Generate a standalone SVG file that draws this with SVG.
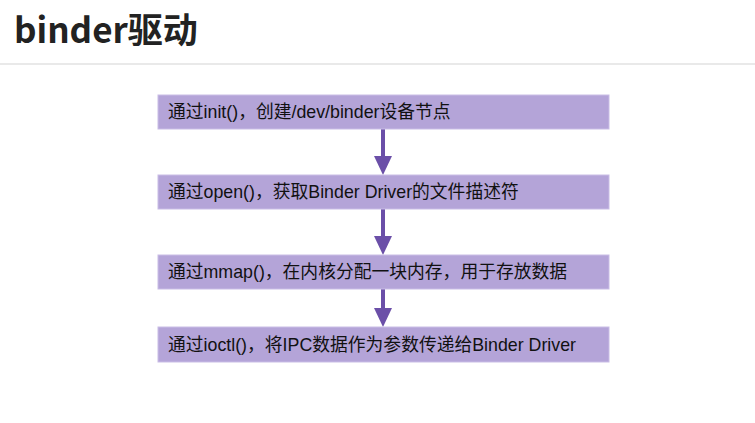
<svg xmlns="http://www.w3.org/2000/svg" width="755" height="423" viewBox="0 0 755 423">
<style>
.box{fill:#b4a4d8;stroke:#c9bde6;stroke-width:1}
.t{font-family:"Liberation Sans","Noto Sans CJK SC",sans-serif;font-size:17.8px;fill:#111}
.c{stroke:#6b4fa8;stroke-width:4;fill:none}
.ah{fill:#6b4fa8}
</style>
<rect width="755" height="423" fill="#fff"/>
<text x="14" y="43" style="font-family:'Noto Sans CJK SC',sans-serif;font-size:35px;font-weight:bold;fill:#222">binder驱动</text>
<line x1="0" y1="64" x2="755" y2="64" stroke="#e2e2e2" stroke-width="1.5"/>
<g id="connectors">
<line class="c" x1="383" y1="129" x2="383" y2="158"/><polygon class="ah" points="374,156 392,156 383,175"/>
<line class="c" x1="383" y1="209" x2="383" y2="238"/><polygon class="ah" points="374,236 392,236 383,255"/>
<line class="c" x1="383" y1="289" x2="383" y2="310"/><polygon class="ah" points="374,308 392,308 383,327"/>
</g>
<g id="n1"><rect class="box" x="158" y="95" width="451" height="34"/><text class="t" x="168" y="118">通过init()，创建/dev/binder设备节点</text></g>
<g id="n2"><rect class="box" x="158" y="175" width="451" height="34"/><text class="t" x="168" y="198">通过open()，获取Binder Driver的文件描述符</text></g>
<g id="n3"><rect class="box" x="158" y="255" width="451" height="34"/><text class="t" x="168" y="278">通过mmap()，在内核分配一块内存，用于存放数据</text></g>
<g id="n4"><rect class="box" x="158" y="327" width="451" height="35"/><text class="t" x="168" y="351">通过ioctl()，将IPC数据作为参数传递给Binder Driver</text></g>
</svg>
